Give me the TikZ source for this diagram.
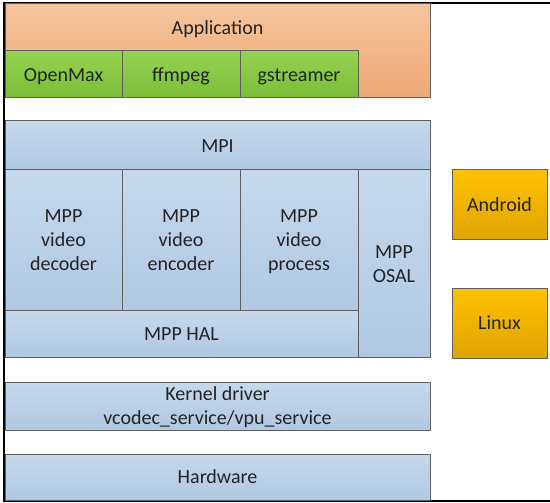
\documentclass[tikz,border=0pt]{standalone}
\usepackage{fontspec}
\setmainfont{Carlito}
\definecolor{bordergray}{RGB}{95,95,95}
\definecolor{txt}{RGB}{35,35,35}
\definecolor{orT}{RGB}{245,196,156}
\definecolor{orB}{RGB}{238,168,118}
\definecolor{grT}{RGB}{148,210,82}
\definecolor{grB}{RGB}{122,190,54}
\definecolor{blT}{RGB}{198,217,235}
\definecolor{blB}{RGB}{176,200,226}
\definecolor{goT}{RGB}{255,194,0}
\definecolor{goB}{RGB}{222,164,0}
\newcommand{\tstrut}{\rule[-5.2pt]{0pt}{24pt}}
\tikzset{
  blk/.style={draw=bordergray, line width=1pt, inner sep=0pt, align=center,
    text=txt, font=\fontsize{20}{24}\selectfont},
  appbox/.style={blk, top color=orT, bottom color=orB},
  greenbox/.style={blk, top color=grT, bottom color=grB},
  bluebox/.style={blk, top color=blT, bottom color=blB},
  goldbox/.style={blk, top color=goT, bottom color=goB},
  frameline/.style={draw=black, line width=1.5pt}
}
\begin{document}
\begin{tikzpicture}[x=1pt,y=-1pt]
\useasboundingbox (0,0) rectangle (550,503);
% outer frame
\draw[frameline] (552,3) -- (4,3) -- (4,501) -- (552,501);
% application layer
\node[appbox, minimum width=425pt, minimum height=94pt] (app) at (217.5,51) {};
\node[text=txt, font=\fontsize{20}{24}\selectfont, inner sep=0pt] (apptext) at (217.5,28) {\tstrut Application};
\node[greenbox, minimum width=117pt, minimum height=47pt] (omx) at (63.5,74.5) {\tstrut OpenMax};
\node[greenbox, minimum width=118pt, minimum height=47pt] (ffm) at (181,74.5) {\tstrut ffmpeg};
\node[greenbox, minimum width=118pt, minimum height=47pt] (gst) at (299,74.5) {\tstrut gstreamer};
% MPP
\node[bluebox, minimum width=425pt, minimum height=49pt] (mpi) at (217.5,145.5) {\tstrut MPI};
\node[bluebox, minimum width=117pt, minimum height=140pt] (dec) at (63.5,240) {\tstrut MPP\\\tstrut video\\\tstrut decoder};
\node[bluebox, minimum width=118pt, minimum height=140pt] (enc) at (181,240) {\tstrut MPP\\\tstrut video\\\tstrut encoder};
\node[bluebox, minimum width=118pt, minimum height=140pt] (proc) at (299,240) {\tstrut MPP\\\tstrut video\\\tstrut process};
\node[bluebox, minimum width=353pt, minimum height=47pt] (hal) at (181.5,333.5) {\tstrut MPP HAL};
\node[bluebox, minimum width=72pt, minimum height=187pt] (osal) at (394,263.5) {\tstrut MPP\\\tstrut OSAL};
% kernel & hardware
\node[bluebox, minimum width=425pt, minimum height=48pt] (kern) at (217.5,406) {\tstrut Kernel driver\\\tstrut vcodec\_service/vpu\_service};
\node[bluebox, minimum width=425pt, minimum height=46pt] (hw) at (217.5,477) {\tstrut Hardware};
% platforms
\node[goldbox, minimum width=95pt, minimum height=70pt] (android) at (499.5,205) {\tstrut Android};
\node[goldbox, minimum width=95pt, minimum height=70pt] (linux) at (499.5,323) {\tstrut Linux};
\end{tikzpicture}
\end{document}
